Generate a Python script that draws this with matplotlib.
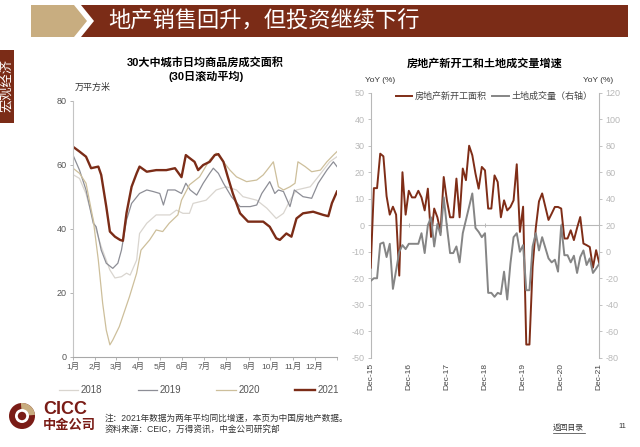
import numpy as np
import matplotlib
matplotlib.use('Agg')
import matplotlib.pyplot as plt
from matplotlib.patches import Polygon, Rectangle, Circle, Wedge

plt.rcParams['font.family'] = ['Liberation Sans', 'Noto Sans CJK SC']
plt.rcParams['axes.unicode_minus'] = False

W, H = 640, 447
BROWN = '#7b2c17'
TAN = '#c8ad80'
NEG = '#b0392b'

# ---- left chart: 30-city daily sales area, 30d rolling mean (day of year, 万平方米)
days_2018 = [0, 9, 18, 28, 39, 51, 58, 67, 74, 79, 88, 92, 102, 115, 134, 143, 152, 161,
             166, 184, 198, 212, 226, 235, 254, 268, 281, 291, 300, 309, 328, 341, 355, 365]
vals_2018 = [57, 55.8, 51, 42.8, 34.5, 27.2, 24.7, 25.1, 26.2, 25.6, 30.3, 38.6, 41.8, 44.4, 44.4, 45.9, 44.9, 44.9,
             48, 49, 52.2, 53.2, 52.2, 50.1, 49, 46.5, 43.3, 44.9, 49, 52.2, 53.2, 56.9, 61, 62.6]

days_2019 = [0, 9, 18, 28, 32, 39, 46, 55, 62, 67, 74, 81, 92, 102, 111, 120, 125, 131, 141, 150,
             156, 162, 171, 180, 189, 194, 201, 208, 219, 231, 245, 254, 261, 272, 279, 284, 291,
             300, 306, 318, 330, 339, 351, 360, 365]
vals_2019 = [63.1, 58.4, 52.2, 41.8, 40.7, 33.4, 29.3, 27.7, 29.3, 33.4, 42.8, 48, 51.1, 52.2, 51.7, 51.1, 47.5, 52.2, 52.2, 51.1,
             54.3, 52.2, 50.6, 54.3, 57.4, 59, 57.4, 54.3, 50.1, 47, 47, 47.5, 51.1, 54.8, 51.1, 52.2, 51.7,
             47, 52.2, 50.1, 49.6, 54.3, 58.4, 61, 59.5]

days_2020 = [0, 9, 18, 28, 35, 41, 46, 51, 55, 64, 78, 88, 94, 106, 115, 124, 133, 145, 150, 161,
             175, 189, 198, 208, 217, 226, 240, 254, 263, 272, 277, 284, 291, 300, 307, 311, 321,
             330, 342, 351, 360, 365]
vals_2020 = [59, 57.4, 54.3, 42.8, 30.3, 16.8, 8.4, 3.8, 5.3, 9.5, 18.8, 26.2, 33.4, 36.6, 39.7, 39.2, 41.8, 44.4, 49, 53.8,
             56.3, 61.6, 63.7, 61, 58.4, 56.3, 54.8, 55.3, 56.9, 59.5, 61, 53.2, 52.2, 53.2, 54.3, 61, 59.5,
             57.9, 58.4, 61, 63.1, 64.2]

days_2021 = [0, 9, 18, 25, 35, 39, 46, 51, 58, 65, 69, 74, 81, 88, 92, 102, 115, 129, 141, 150,
             156, 161, 168, 173, 180, 189, 196, 201, 208, 214, 221, 231, 242, 254, 263, 272, 281,
             286, 295, 302, 309, 318, 332, 346, 353, 358, 365]
vals_2021 = [65.7, 64.2, 62.6, 59, 59.5, 56.9, 47, 39.2, 37.6, 36.6, 36.3, 45, 53.2, 57.4, 59.5, 57.9, 58.4, 58.4, 59, 56.2,
             63.1, 62.2, 61, 58.4, 60, 61, 63.1, 63.4, 61, 56.3, 51.1, 44.9, 42.3, 42.3, 42.3, 40.7, 37.1,
             36.6, 38.6, 37.6, 43.3, 44.9, 45.4, 44.4, 44, 48.1, 51.7]

month_start = [0, 31, 59, 90, 120, 151, 181, 212, 243, 273, 304, 334, 365]
month_labels = ['1月', '2月', '3月', '4月', '5月', '6月', '7月', '8月', '9月', '10月', '11月', '12月', '']

# ---- right chart: monthly YoY, Dec-15 .. Dec-21
months = np.arange(73)
new_starts = [-16, 14, 14, 27, 26, 11, 4, 7, 4, -19,
              20, 4, 13, 10.5, 10.5, 13, 10.5, 5.6, 13.8, -4.4,
              6.3, 3, -2.5, 18.2, 9.4, 3, 3, 17.6, 3, 21.4,
              17, 30, 26.4, 19.5, 13.8, 22, 20.7, 6.3, 6.3, 18.8,
              16.3, 3, 9.4, 5.6, 6.9, 9.4, 23, -2.5, 7, -45,
              -45, -15.7, -1, 9, 12, 7, 2, 4.4, 6.9, 6.9,
              6.3, -5, -5, -1.9, -5.6, -1, 3.1, -6.9, -7.5, -8.2,
              -16, -9.4, -14.4]
land_deals = [-22, -20, -20, 6, 7, -4, 6, -28, -14, 0,
              5, 2, 6, 6, 6, 6, 14, -1, 20, 26,
              4, 21, 12.5, 41, 19, -1, -1, 4, -8, 14,
              24, 34, 44, 18, 15, 11, 14, -31, -31, -34,
              -31, -32, -15, -36, -9, 11, 14, 0, 5, -29,
              -29, 4, 14, 1, 11, 3, -5, -8, -6, -15,
              20, -2.6, -2.6, -8, -3, -16, -4, 1, -10, -5,
              -16, -12.6, -9]
date_ticks = [0, 12, 24, 36, 48, 60, 72]
date_labels = ['Dec-15', 'Dec-16', 'Dec-17', 'Dec-18', 'Dec-19', 'Dec-20', 'Dec-21']

fig = plt.figure(figsize=(6.4, 4.47), dpi=100)

# page decoration in pixel coordinates
bg = fig.add_axes([0, 0, 1, 1])
bg.set_xlim(0, W)
bg.set_ylim(H, 0)
bg.axis('off')
bg.add_patch(Polygon([(31, 5), (74, 5), (87, 21), (74, 37), (31, 37)], closed=True, color=TAN, lw=0))
bg.add_patch(Polygon([(81, 5), (628, 5), (628, 37), (81, 37), (94, 21)], closed=True, color=BROWN, lw=0))
bg.text(108, 21.5, '地产销售回升，但投资继续下行', color='white', fontsize=16, va='center', ha='left')

bg.add_patch(Rectangle((0, 50), 14, 73, color=BROWN, lw=0))
bg.text(7, 86, '宏观经济', color='white', fontsize=9.5, rotation=90, ha='center', va='center')

bg.text(205, 62, '30大中城市日均商品房成交面积', fontsize=8, weight='bold', ha='center', va='center')
bg.text(206, 76, '(30日滚动平均)', fontsize=8, weight='bold', ha='center', va='center')
bg.text(75, 87, '万平方米', fontsize=6.5, ha='left', va='center', color='#333333')

bg.text(485, 63, '房地产新开工和土地成交量增速', fontsize=8, weight='bold', ha='center', va='center')
bg.text(365, 81, 'YoY (%)', fontsize=6, ha='left', va='center', color='#333333')
bg.text(583, 81, 'YoY (%)', fontsize=6, ha='left', va='center', color='#333333')

# footer
bg.add_patch(Circle((22, 416), 13, color='#7a1c16', lw=0))
bg.add_patch(Wedge((22, 416), 13, -95, -5, color=TAN, lw=0))
bg.add_patch(Circle((22, 416), 7, color='white', lw=0))
bg.add_patch(Circle((22, 416), 4.2, color='#7a1c16', lw=0))
bg.text(43, 410, 'CICC', fontsize=13, weight='bold', color='#7a1c16', ha='left', va='center')
bg.text(43, 426, '中金公司', fontsize=9.5, weight='bold', color='#7a1c16', ha='left', va='center')
bg.text(105, 418, '注：2021年数据为两年平均同比增速，本页为中国房地产数据。', fontsize=6.2, ha='left', va='center', color='#333333')
bg.text(105, 429, '资料来源：CEIC，万得资讯，中金公司研究部', fontsize=6.2, ha='left', va='center', color='#333333')
bg.text(553, 428, '返回目录', fontsize=5.6, ha='left', va='center', color='#333333')
bg.plot([553, 585], [432.5, 432.5], color='#333333', lw=0.5)
bg.text(618, 427, '11', fontsize=5.5, ha='left', va='center', color='#333333')

# ---- left chart
ax1 = fig.add_axes([73 / W, 1 - 357 / H, 264 / W, 256 / H])
ax1.set_facecolor('none')
l18, = ax1.plot(days_2018, vals_2018, color='#d9d5cf', lw=0.9, label='2018')
l19, = ax1.plot(days_2019, vals_2019, color='#8d8e96', lw=0.9, label='2019')
l20, = ax1.plot(days_2020, vals_2020, color='#cdbf9b', lw=0.9, label='2020')
l21, = ax1.plot(days_2021, vals_2021, color=BROWN, lw=1.7, label='2021')
ax1.set_xlim(0, 365)
ax1.set_ylim(0, 80)
ax1.set_yticks([0, 20, 40, 60, 80])
ax1.set_xticks(month_start)
ax1.set_xticklabels(month_labels)
for s in ['top', 'right']:
    ax1.spines[s].set_visible(False)
ax1.spines['left'].set_color('#c4c4c4')
ax1.spines['bottom'].set_color('#a8a8a8')
ax1.tick_params(axis='y', colors='#a8a8a8', labelcolor='#555555', labelsize=6.5, length=2.5, width=0.6, pad=2)
ax1.tick_params(axis='x', colors='#a8a8a8', labelcolor='#555555', labelsize=6, length=2.5, width=0.6, pad=2)
ax1.legend(handles=[l18, l19, l20, l21], ncol=4, loc='center', bbox_to_anchor=(0.477, -0.13),
           frameon=False, fontsize=7, handlelength=2.0, columnspacing=3.6, handletextpad=0.3,
           labelcolor='#555555')

# ---- right chart
ax2 = fig.add_axes([370.7 / W, 1 - 357.8 / H, 228.6 / W, 265.1 / H])
ax2.set_facecolor('none')
ax2.axhline(0, color='#b8b8b8', lw=0.8, zorder=1)
ax2.plot(date_ticks, np.zeros(len(date_ticks)), ls='none', marker='|', ms=3, mew=0.7, color='#b8b8b8', zorder=1)
lb, = ax2.plot(months, new_starts, color='#7f2d17', lw=1.4, zorder=3)
ax2.set_xlim(0, 72)
ax2.set_ylim(-50, 50)
yl = list(range(-50, 51, 10))
ax2.set_yticks(yl)
ax2.set_yticklabels([str(v) for v in yl])
for lbl, v in zip(ax2.get_yticklabels(), yl):
    lbl.set_color(NEG if v < 0 else '#444444')
ax2.set_xticks(date_ticks)
ax2.set_xticklabels(date_labels, rotation=90)
ax2.tick_params(axis='x', length=0, labelsize=6, labelcolor='#444444', pad=4)
ax2.tick_params(axis='y', colors='#b8b8b8', labelsize=6.5, length=2.5, width=0.6, pad=2)
for s in ['top', 'right', 'bottom']:
    ax2.spines[s].set_visible(False)
ax2.spines['left'].set_color('#b8b8b8')

ax3 = ax2.twinx()
lg, = ax3.plot(months, land_deals, color='#858585', lw=1.4, zorder=2)
ax3.set_ylim(-80, 120)
yr = list(range(-80, 121, 20))
ax3.set_yticks(yr)
ax3.set_yticklabels([str(v) for v in yr])
for lbl, v in zip(ax3.get_yticklabels(), yr):
    lbl.set_color(NEG if v < 0 else '#444444')
ax3.tick_params(axis='y', colors='#b8b8b8', labelsize=6.5, length=2.5, width=0.6, pad=2)
for s in ['top', 'left', 'bottom']:
    ax3.spines[s].set_visible(False)
ax3.spines['right'].set_color('#b8b8b8')
ax3.legend(handles=[lb, lg], labels=['房地产新开工面积', '土地成交量（右轴）'], ncol=2,
           loc='center', bbox_to_anchor=(0.54, 0.985), frameon=False, fontsize=6.5,
           handlelength=1.8, columnspacing=0.6, handletextpad=0.3, labelcolor='#444444')

fig.savefig('out.png', dpi=100)
